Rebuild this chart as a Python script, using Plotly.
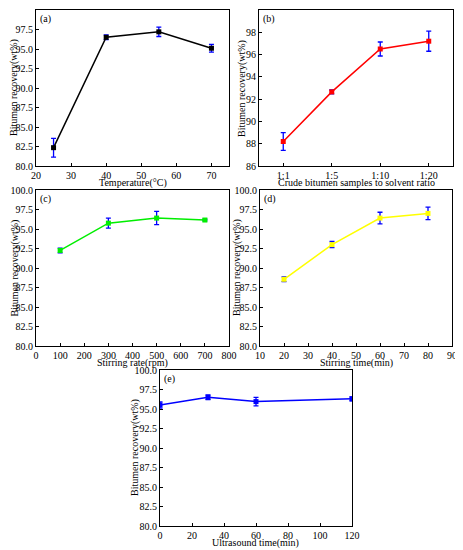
import plotly.graph_objects as go

# (a) temperature
temp = [25, 40, 55, 70]
temp_rec = [82.35, 96.5, 97.2, 95.1]
temp_err = [1.2, 0.3, 0.6, 0.5]

# (b) solvent ratio
ratio = ["1:1", "1:5", "1:10", "1:20"]
ratio_rec = [88.2, 92.65, 96.5, 97.2]
ratio_err = [0.8, 0.17, 0.63, 0.9]

# (c) stirring rate
rate = [100, 300, 500, 700]
rate_rec = [92.25, 95.75, 96.4, 96.15]
rate_err = [0.3, 0.65, 0.85, 0.1]

# (d) stirring time
stime = [20, 40, 60, 80]
stime_rec = [88.55, 93.0, 96.4, 97.0]
stime_err = [0.3, 0.4, 0.75, 0.8]

# (e) ultrasound time
utime = [0, 30, 60, 120]
utime_rec = [95.5, 96.5, 95.95, 96.3]
utime_err = [0.4, 0.3, 0.55, 0.25]

FONT = "Liberation Serif"
# page body has an 8px margin, so the figure is shrunk and shifted by it
OFF = 8
W, H = 463 - OFF, 550 - OFF


def px(x):
    return (x - OFF) / W


def py(y):
    return 1 - (y - OFF) / H


def trace(x, y, e, color, i):
    return go.Scatter(
        x=x, y=y, mode="lines+markers",
        line=dict(color=color, width=1.5),
        marker=dict(symbol="square", size=5, color=color),
        error_y=dict(type="data", array=e, color="#0000ff", thickness=1.3, width=2.5),
        xaxis="x" + ("" if i == 1 else str(i)),
        yaxis="y" + ("" if i == 1 else str(i)),
        showlegend=False,
    )


fig = go.Figure()
fig.add_trace(trace(temp, temp_rec, temp_err, "#000000", 1))
fig.add_trace(trace(ratio, ratio_rec, ratio_err, "#ff0000", 2))
fig.add_trace(trace(rate, rate_rec, rate_err, "#00ee00", 3))
fig.add_trace(trace(stime, stime_rec, stime_err, "#ffff00", 4))
fig.add_trace(trace(utime, utime_rec, utime_err, "#0000ff", 5))

axis_style = dict(showline=True, mirror=True, linecolor="black", linewidth=1,
                  ticks="inside", ticklen=3, tickcolor="black", showgrid=False,
                  zeroline=False, automargin=False,
                  tickfont=dict(size=10, family=FONT, color="black"))

ylab = "Bitumen recovery(wt%)"
panels = [
    # plot box in page px (x0, x1), (y0, y1), x range, x dtick, x title, y range, y dtick, title positions
    ((36, 229), (10, 166), [20, 75], 10, "Temperature(°C)", [80, 100], 2.5, 183, 14),
    ((259, 453), (10, 166), [-0.5, 3.5], None, "Crude bitumen samples to solvent ratio", [86, 100], 2, 183, 242),
    ((36, 229), (190, 346), [0, 800], 100, "Stirring rate(rpm)", [80, 100], 2.5, 363, 14.5),
    ((260, 452), (190, 346), [10, 90], 10, "Stirring time(min)", [80, 100], 2.5, 363, 237),
    ((160, 352), (370, 526), [0, 120], 20, "Ultrasound time(min)", [80, 100], 2.5, 543, 135),
]
labels = ["(a)", "(b)", "(c)", "(d)", "(e)"]

layout = dict(width=W, height=H, margin=dict(l=0, r=0, t=0, b=0),
              paper_bgcolor="white", plot_bgcolor="white",
              font=dict(family=FONT, size=10, color="black"))
annotations = []
for i, (xd, yd, xr, dt, xt, yr, ydt, xty, ytx) in enumerate(panels, start=1):
    sfx = "" if i == 1 else str(i)
    xa = dict(axis_style, domain=[px(xd[0]), px(xd[1])], range=xr, anchor="y" + sfx)
    if dt is None:
        xa["type"] = "category"
    else:
        xa["dtick"] = dt
        xa["tick0"] = 0
    ya = dict(axis_style, domain=[py(yd[1]), py(yd[0])], range=yr, dtick=ydt,
              anchor="x" + sfx, tickformat=".1f" if ydt == 2.5 else "d")
    layout["xaxis" + sfx] = xa
    layout["yaxis" + sfx] = ya
    annotations.append(dict(text=labels[i - 1], xref="x" + sfx + " domain",
                            yref="y" + sfx + " domain", x=0.01, y=0.995,
                            xanchor="left", yanchor="top", showarrow=False,
                            font=dict(size=10, family=FONT)))
    # axis titles
    annotations.append(dict(text=xt, xref="paper", yref="paper",
                            x=px((xd[0] + xd[1]) / 2), y=py(xty),
                            xanchor="center", yanchor="middle", showarrow=False,
                            font=dict(size=10, family=FONT)))
    annotations.append(dict(text=ylab, xref="paper", yref="paper", textangle=-90,
                            x=px(ytx), y=py((yd[0] + yd[1]) / 2),
                            xanchor="center", yanchor="middle", showarrow=False,
                            font=dict(size=10, family=FONT)))
layout["annotations"] = annotations

fig.update_layout(**layout)
fig.write_html("out.html")
